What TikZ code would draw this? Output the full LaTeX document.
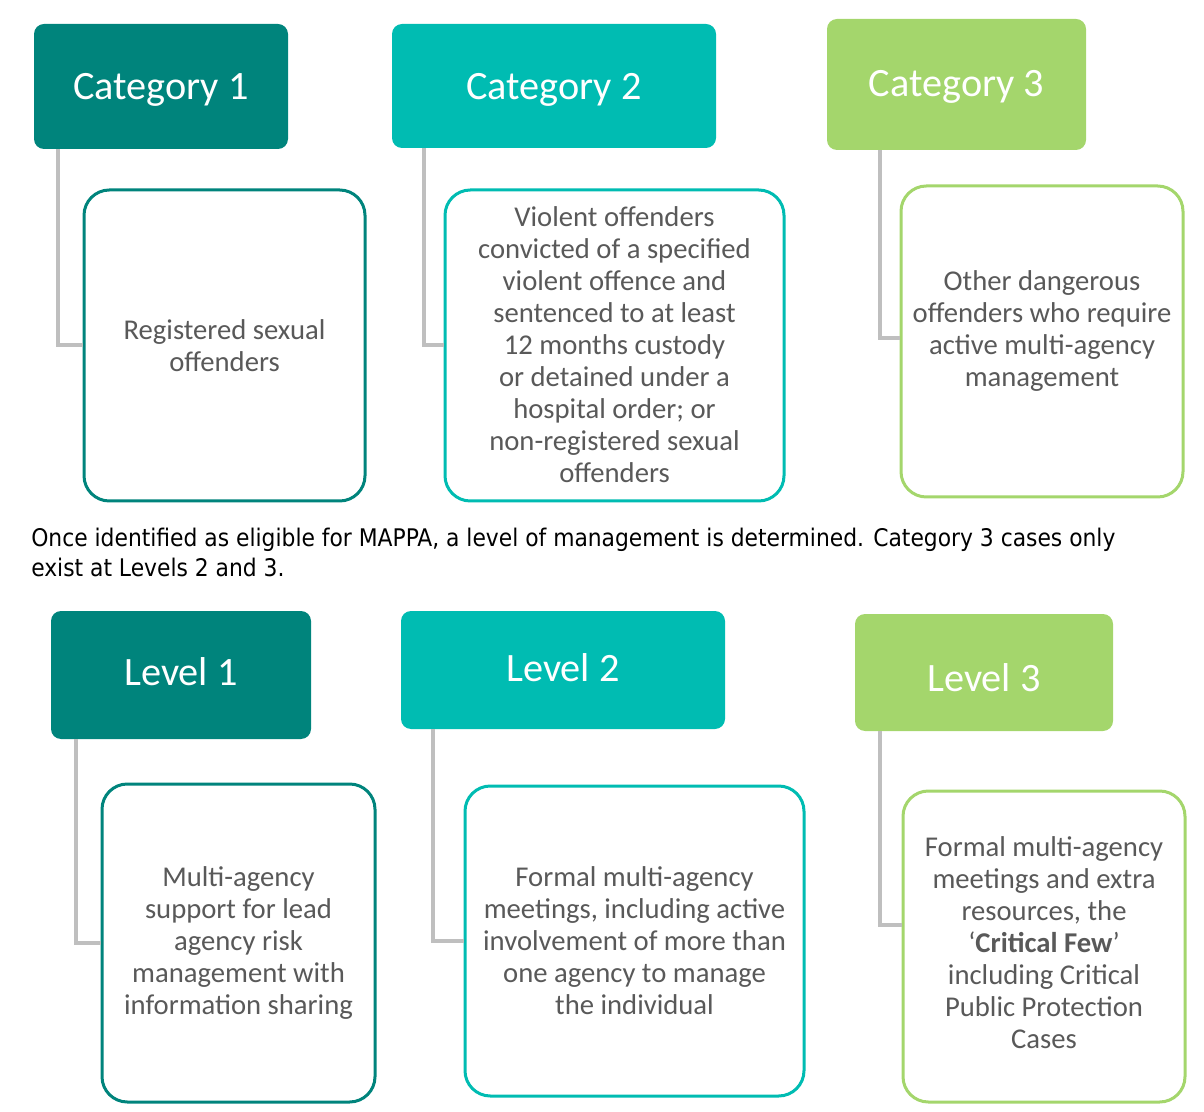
\documentclass[tikz,border=0pt]{standalone}
\usepackage{fontspec}
\setmainfont{Carlito}
\newfontfamily\parafont{DejaVu Sans Condensed}
\definecolor{tealdark}{RGB}{0,132,124}
\definecolor{turq}{RGB}{0,188,178}
\definecolor{lgreen}{RGB}{164,214,108}
\definecolor{conngray}{RGB}{191,191,191}
\definecolor{txtgray}{RGB}{89,89,89}
\tikzset{
  hdr/.style={rectangle, rounded corners=7.5pt, inner sep=0pt},
  hdrtext/.style={text=white, font=\fontsize{30.2}{36}\selectfont, inner sep=0pt},
  infobox/.style={rectangle, rounded corners=19pt, line width=2.25pt, fill=white, inner sep=0pt},
  boxtext/.style={text=txtgray, align=center, font=\fontsize{21.5}{24}\selectfont, inner sep=0pt},
  conn/.style={draw=conngray, line width=3pt}
}
\begin{document}
\begin{tikzpicture}[x=0.75pt,y=-0.75pt]
\useasboundingbox (0,0) rectangle (1204,1112);
% Categories
\node[hdr, fill=tealdark, minimum width=190.5pt, minimum height=93.75pt] (c1h) at (161,86.5) {};
\node[hdr, fill=turq, minimum width=243pt, minimum height=93pt] (c2h) at (554,86) {};
\node[hdr, fill=lgreen, minimum width=194.25pt, minimum height=98.25pt] (c3h) at (956.5,84.5) {};
\node[hdrtext] (c1ht) at ([yshift=-2.25pt]c1h.center) {Category 1};
\node[hdrtext] (c2ht) at ([yshift=-3pt]c2h.center) {Category 2};
\node[hdrtext] (c3ht) at ([yshift=-1.5pt]c3h.center) {Category 3};
\node[infobox, draw=tealdark, minimum width=210.75pt, minimum height=233.25pt] (c1b) at (224.5,345.5) {};
\node[infobox, draw=turq, minimum width=254.25pt, minimum height=233.25pt] (c2b) at (614.5,345.5) {};
\node[infobox, draw=lgreen, minimum width=211.5pt, minimum height=233.25pt] (c3b) at (1042,341.5) {};
\node[boxtext] (c1t) at (c1b.center) {Registered sexual\\offenders};
\node[boxtext] (c2t) at ([yshift=0.5pt]c2b.center) {Violent offenders\\convicted of a specified\\violent offence and\\sentenced to at least\\12 months custody\\or detained under a\\hospital order; or\\non-registered sexual\\offenders};
\node[boxtext] (c3t) at ([yshift=7.5pt]c3b.center) {Other dangerous\\offenders who require\\active multi-agency\\management};
\draw[conn] ([xshift=18pt]c1h.south west) |- (c1b.west);
\draw[conn] ([xshift=24pt]c2h.south west) |- (c2b.west);
\draw[conn] ([xshift=39.75pt]c3h.south west) |- ([yshift=2.6pt]c3b.west);
% Paragraph
\node[anchor=base west, align=left, inner sep=0pt, font=\parafont\fontsize{18.2}{22.5}\selectfont] (para) at (31,576) {Once identified as eligible for MAPPA, a level of management is determined. Category 3 cases only\\exist at Levels 2 and 3.};
% Levels
\node[hdr, fill=tealdark, minimum width=195pt, minimum height=96pt] (l1h) at (181,675) {};
\node[hdr, fill=turq, minimum width=243pt, minimum height=88.5pt] (l2h) at (563,670) {};
\node[hdr, fill=lgreen, minimum width=193.5pt, minimum height=87.75pt] (l3h) at (984,672.5) {};
\node[hdrtext] (l1ht) at ([yshift=2.25pt]l1h.center) {Level 1};
\node[hdrtext] (l2ht) at ([yshift=1.5pt]l2h.center) {Level 2};
\node[hdrtext] (l3ht) at ([yshift=-3.75pt]l3h.center) {Level 3};
\node[infobox, draw=tealdark, minimum width=204.75pt, minimum height=238.5pt] (l1b) at (238.5,943) {};
\node[infobox, draw=turq, minimum width=254.25pt, minimum height=232.5pt] (l2b) at (634.5,941) {};
\node[infobox, draw=lgreen, minimum width=211.5pt, minimum height=233.25pt] (l3b) at (1044,946.5) {};
\node[boxtext] (l1t) at (l1b.center) {Multi-agency\\support for lead\\agency risk\\management with\\information sharing};
\node[boxtext] (l2t) at (l2b.center) {Formal multi-agency\\meetings, including active\\involvement of more than\\one agency to manage\\the individual};
\node[boxtext] (l3t) at ([yshift=2.6pt]l3b.center) {Formal multi-agency\\meetings and extra\\resources, the\\`\textbf{Critical Few}'\\including Critical\\Public Protection\\Cases};
\draw[conn] ([xshift=18.75pt]l1h.south west) |- (l1b.west);
\draw[conn] ([xshift=24pt]l2h.south west) |- (l2b.west);
\draw[conn] ([xshift=18.75pt]l3h.south west) |- ([yshift=16pt]l3b.west);
\end{tikzpicture}
\end{document}
